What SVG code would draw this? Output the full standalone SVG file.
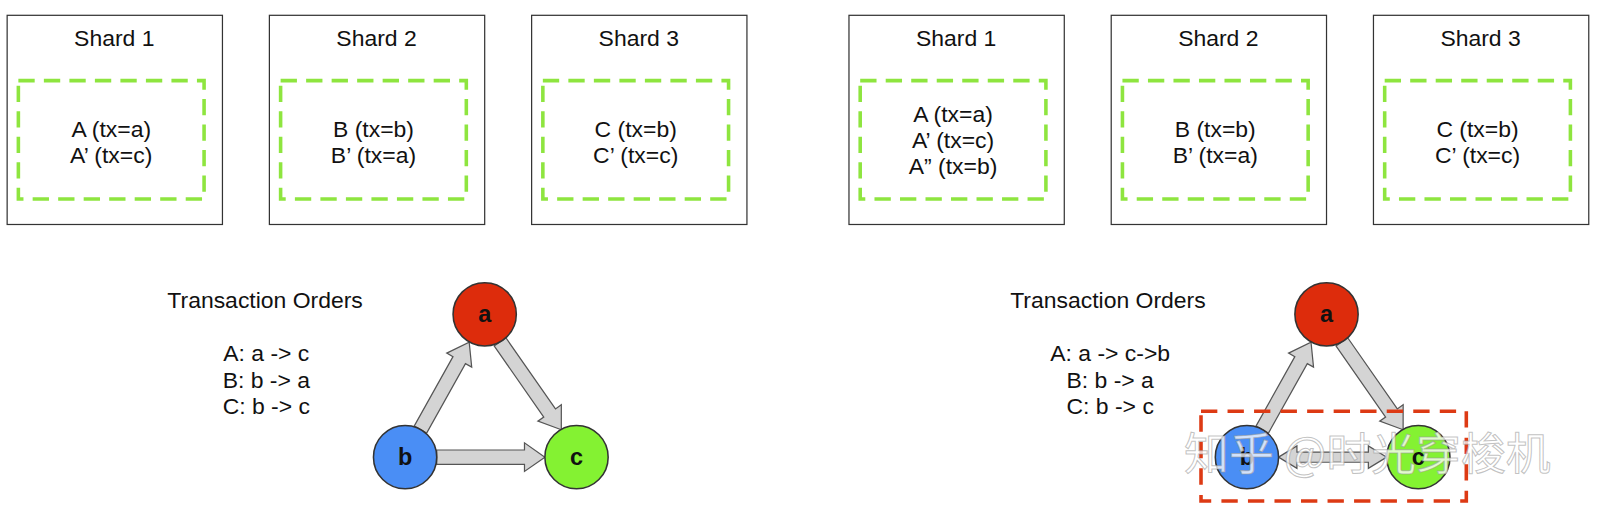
<svg xmlns="http://www.w3.org/2000/svg" width="1600" height="519" viewBox="0 0 1600 519">
<style>
.shard{fill:#fff;stroke:#333;stroke-width:1.2}
.zone{fill:none;stroke:#8ee53f;stroke-width:3.5;stroke-dasharray:16,9}
.t{font-family:"Liberation Sans",Arial,sans-serif;font-size:22.5px;fill:#111;text-anchor:middle}
.tl{font-family:"Liberation Sans",Arial,sans-serif;font-size:22.5px;fill:#111}
.lbl{font-family:"Liberation Sans",Arial,sans-serif;font-size:23px;font-weight:bold;fill:#111;text-anchor:middle}
.node{stroke:#333;stroke-width:1.5}
.arr{fill:#d4d4d4;stroke:#555;stroke-width:1.2}
</style>
<rect width="1600" height="519" fill="#fff"/>
<g transform="scale(1.0204)">
<g id="left-shard1"><rect class="shard" x="7" y="15" width="211" height="205"/><text class="t" x="112" y="45">Shard 1</text><rect class="zone" x="18" y="79" width="182" height="116"/><text class="t" x="109" y="134">A (tx=a)</text><text class="t" x="109" y="160">A’ (tx=c)</text></g>
<g id="left-shard2"><rect class="shard" x="264" y="15" width="211" height="205"/><text class="t" x="369" y="45">Shard 2</text><rect class="zone" x="275" y="79" width="182" height="116"/><text class="t" x="366" y="134">B (tx=b)</text><text class="t" x="366" y="160">B’ (tx=a)</text></g>
<g id="left-shard3"><rect class="shard" x="521" y="15" width="211" height="205"/><text class="t" x="626" y="45">Shard 3</text><rect class="zone" x="532" y="79" width="182" height="116"/><text class="t" x="623" y="134">C (tx=b)</text><text class="t" x="623" y="160">C’ (tx=c)</text></g>
<g id="right-shard1"><rect class="shard" x="832" y="15" width="211" height="205"/><text class="t" x="937" y="45">Shard 1</text><rect class="zone" x="843" y="79" width="182" height="116"/><text class="t" x="934" y="120">A (tx=a)</text><text class="t" x="934" y="145">A’ (tx=c)</text><text class="t" x="934" y="171">A” (tx=b)</text></g>
<g id="right-shard2"><rect class="shard" x="1089" y="15" width="211" height="205"/><text class="t" x="1194" y="45">Shard 2</text><rect class="zone" x="1100" y="79" width="182" height="116"/><text class="t" x="1191" y="134">B (tx=b)</text><text class="t" x="1191" y="160">B’ (tx=a)</text></g>
<g id="right-shard3"><rect class="shard" x="1346" y="15" width="211" height="205"/><text class="t" x="1451" y="45">Shard 3</text><rect class="zone" x="1357" y="79" width="182" height="116"/><text class="t" x="1448" y="134">C (tx=b)</text><text class="t" x="1448" y="160">C’ (tx=c)</text></g>
<g id="left-orders"><text class="tl" x="164" y="302">Transaction Orders</text><text class="t" x="261" y="354">A: a -&gt; c</text><text class="t" x="261" y="380">B: b -&gt; a</text><text class="t" x="261" y="406">C: b -&gt; c</text></g>
<g id="right-orders"><text class="tl" x="990" y="302">Transaction Orders</text><text class="t" x="1088" y="354">A: a -&gt; c-&gt;b</text><text class="t" x="1088" y="380">B: b -&gt; a</text><text class="t" x="1088" y="406">C: b -&gt; c</text></g>
<g id="connectors">
<path class="arr" transform="translate(412,421) rotate(-60.8)" d="M0,-7H78V-14L98,0L78,14V7H0Z"/>
<path class="arr" transform="translate(490,335) rotate(55.1)" d="M0,-7H85V-14L105,0L85,14V7H0Z"/>
<path class="arr" transform="translate(428,448)" d="M0,-7H86V-14L106,0L86,14V7H0Z"/>
<path class="arr" transform="translate(1237,421) rotate(-60.8)" d="M0,-7H78V-14L98,0L78,14V7H0Z"/>
<path class="arr" transform="translate(1315,335) rotate(55.1)" d="M0,-7H85V-14L105,0L85,14V7H0Z"/>
<path class="arr" transform="translate(1253,448)" d="M0,0L18,-11V-5H88V-11L106,0L88,11V5H18V11Z"/>
</g>
<g id="left-a"><circle class="node" cx="475" cy="308" r="31" fill="#dd2c0c"/><text class="lbl" x="475" y="316">a</text></g>
<g id="left-b"><circle class="node" cx="397" cy="448" r="31" fill="#4a8ef5"/><text class="lbl" x="397" y="456">b</text></g>
<g id="left-c"><circle class="node" cx="565" cy="448" r="31" fill="#84f232"/><text class="lbl" x="565" y="456">c</text></g>
<g id="right-a"><circle class="node" cx="1300" cy="308" r="31" fill="#dd2c0c"/><text class="lbl" x="1300" y="316">a</text></g>
<g id="right-b"><circle class="node" cx="1222" cy="448" r="31" fill="#4a8ef5"/><text class="lbl" x="1222" y="456">b</text></g>
<g id="right-c"><circle class="node" cx="1390" cy="448" r="31" fill="#84f232"/><text class="lbl" x="1390" y="456">c</text></g>
<rect id="conflict" x="1177" y="403" width="260" height="88" fill="none" stroke="#dd3a14" stroke-width="3.5" stroke-dasharray="16,10"/>
<text x="1340" y="461" font-family="'Noto Sans CJK SC',sans-serif" font-size="44" fill="#fff" fill-opacity="0.75" stroke="#999" stroke-opacity="0.6" stroke-width="1" text-anchor="middle">知乎 @时光穿梭机</text>
</g>
</svg>
